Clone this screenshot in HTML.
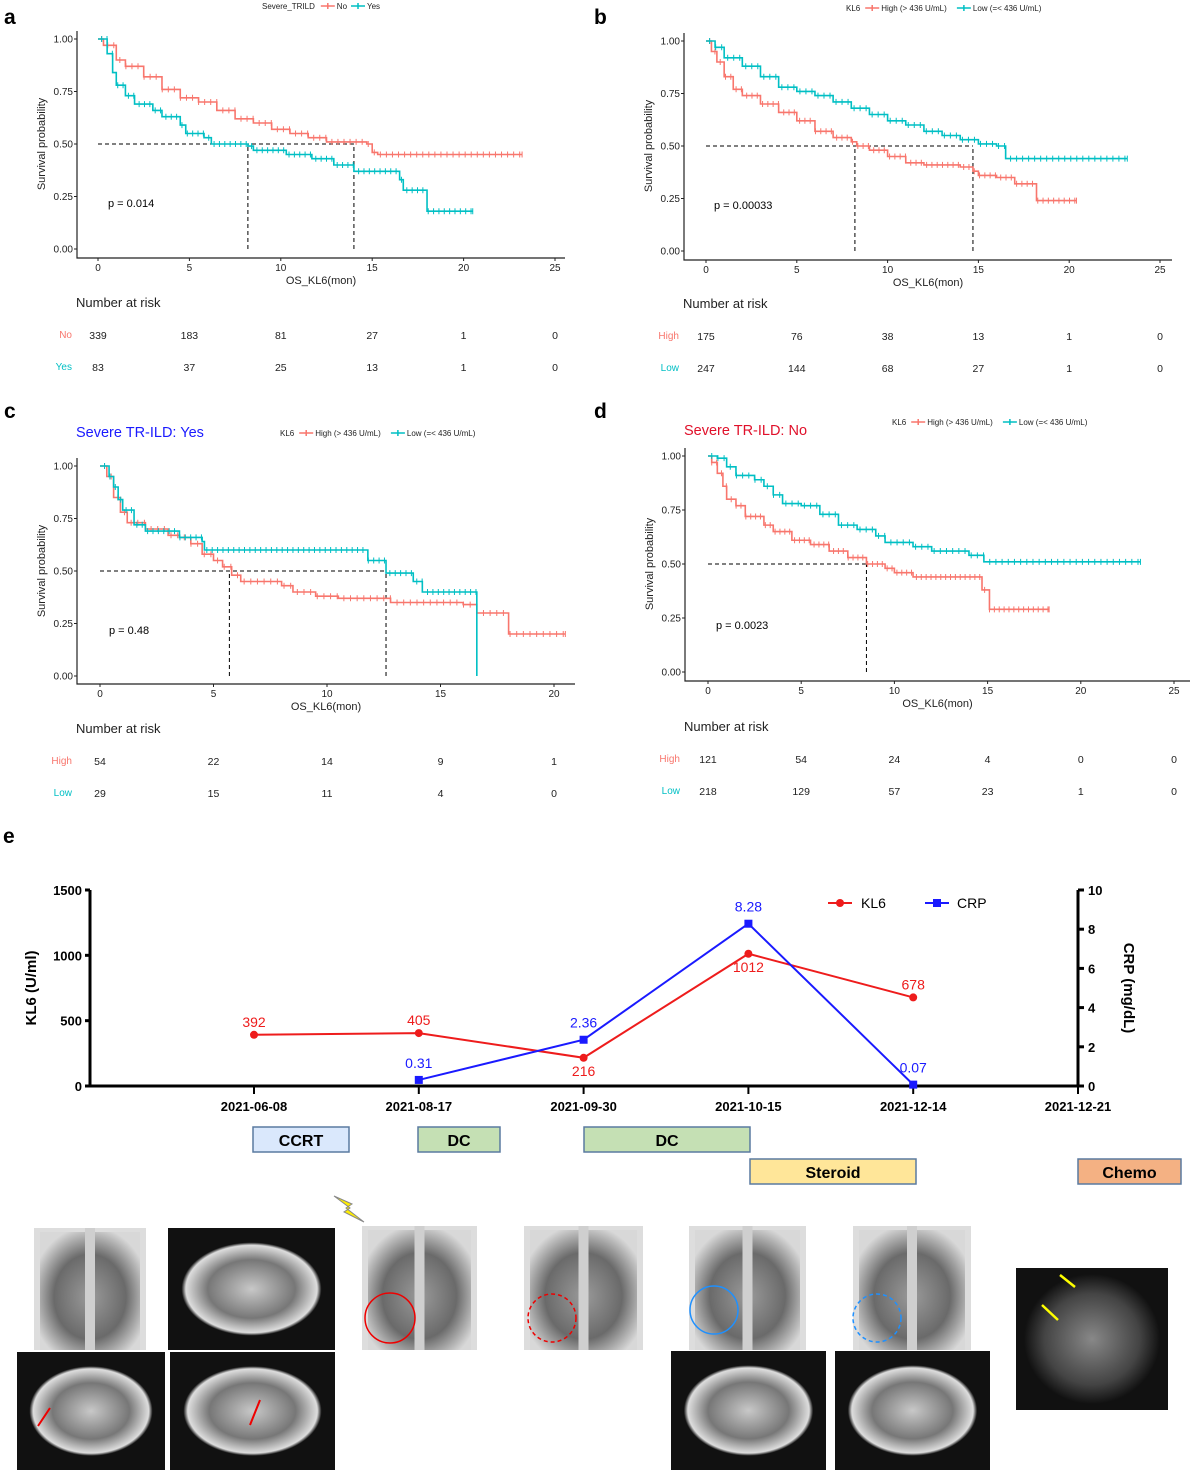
<!DOCTYPE html>
<html><head><meta charset="utf-8"><style>
body{margin:0;background:#fff;width:1200px;height:1474px;overflow:hidden}
svg{display:block;font-family:"Liberation Sans",sans-serif}
</style></head><body>
<svg id="fig" width="1200" height="1474" viewBox="0 0 1200 1474" xmlns="http://www.w3.org/2000/svg">
<defs>
<radialGradient id="xr" cx="50%" cy="55%" r="60%"><stop offset="0" stop-color="#9a9a9a"/><stop offset="0.6" stop-color="#6a6a6a"/><stop offset="1" stop-color="#d8d8d8"/></radialGradient>
<radialGradient id="ct" cx="50%" cy="50%" r="55%"><stop offset="0" stop-color="#c8c8c8"/><stop offset="0.5" stop-color="#777"/><stop offset="0.75" stop-color="#ddd"/><stop offset="0.8" stop-color="#111"/></radialGradient>
<radialGradient id="mr" cx="50%" cy="50%" r="50%"><stop offset="0" stop-color="#888"/><stop offset="0.7" stop-color="#444"/><stop offset="1" stop-color="#111"/></radialGradient>
</defs>
<g id="panels"></g>
</svg>
<script>
// ---------- KM data ----------
const aNo = [[0,1],[0.3,.97],[1,.9],[1.5,.87],[2.5,.82],[3.5,.76],[4.5,.72],[5.5,.70],[6.5,.66],[7.5,.62],[8.5,.60],[9.5,.57],[10.5,.55],[11.5,.53],[12.5,.51],[14.7,.50],[15,.46],[15.3,.45],[23.2,.45]];
const aYes = [[0,1],[0.5,.93],[0.8,.84],[1,.78],[1.5,.73],[2,.69],[3,.66],[3.5,.63],[4.5,.59],[4.8,.55],[5.8,.53],[6.2,.50],[8.2,.49],[8.5,.47],[10.3,.45],[11.7,.43],[12.9,.40],[14,.37],[16.5,.33],[16.7,.28],[18,.18],[20.5,.18]];
const bHigh = [[0,1],[0.3,.95],[0.6,.90],[1,.83],[1.5,.77],[2,.74],[3,.70],[4,.66],[5,.62],[6,.57],[7,.54],[8,.52],[8.3,.50],[9,.48],[10,.45],[11,.42],[12,.41],[14,.40],[14.7,.38],[15,.36],[16,.35],[17,.32],[18.2,.24],[20.4,.24]];
const bLow = [[0,1],[0.5,.97],[1,.92],[2,.88],[3,.83],[4,.78],[5,.76],[6,.74],[7,.71],[8,.68],[9,.65],[10,.62],[11,.60],[12,.57],[13,.55],[14,.53],[15,.51],[16,.50],[16.5,.44],[23.2,.44]];
const cHigh = [[0,1],[0.3,.95],[0.6,.85],[0.9,.78],[1.2,.73],[2,.70],[3,.67],[3.5,.66],[4,.63],[4.5,.58],[5,.55],[5.4,.52],[5.8,.48],[6.2,.45],[8,.43],[8.5,.40],[9.5,.38],[10.5,.37],[12.8,.35],[16,.34],[16.6,.30],[18,.20],[20.5,.20]];
const cLow = [[0,1],[0.4,.95],[0.6,.9],[0.8,.84],[1,.79],[1.5,.72],[2,.69],[3.5,.66],[4.5,.64],[4.6,.60],[11.8,.55],[12.6,.49],[13.8,.45],[14.2,.40],[16.6,0],[16.6,0]];
const dHigh = [[0,1],[0.2,.97],[0.5,.92],[0.8,.86],[1,.80],[1.5,.77],[2,.72],[3,.68],[3.5,.65],[4.5,.61],[5.5,.59],[6.5,.56],[7.5,.53],[8.5,.50],[9.5,.48],[10,.46],[11,.44],[14.7,.38],[15.1,.29],[18.3,.29]];
const dLow = [[0,1],[0.5,.99],[1,.95],[1.5,.91],[2.5,.89],[3,.86],[3.5,.82],[4,.78],[5,.77],[6,.73],[7,.68],[8,.66],[9,.63],[9.5,.60],[11,.58],[12,.56],[14,.54],[14.8,.51],[23.2,.51]];
const riskA = [[339,183,81,27,1,0],[83,37,25,13,1,0]];
const riskB = [[175,76,38,13,1,0],[247,144,68,27,1,0]];
const riskC = [[54,22,14,9,1],[29,15,11,4,0]];
const riskD = [[121,54,24,4,0,0],[218,129,57,23,1,0]];
const yTicks = ["0.00","0.25","0.50","0.75","1.00"];
// ---------- timeline data ----------
const dates = ["2021-06-08","2021-08-17","2021-09-30","2021-10-15","2021-12-14","2021-12-21"];
const kl6Idx = [0,1,2,3,4];
const kl6Vals = [392,405,216,1012,678];
const crpIdx = [1,2,3,4];
const crpVals = [0.31,2.36,8.28,0.07];
const kl6Ticks = [0,500,1000,1500];
const crpTicks = [0,2,4,6,8,10];

const NS="http://www.w3.org/2000/svg";
const root=document.getElementById('panels');
function el(tag,attrs,parent,text){const e=document.createElementNS(NS,tag);for(const k in attrs)e.setAttribute(k,attrs[k]);if(text!==undefined)e.textContent=text;(parent||root).appendChild(e);return e;}
const RED="#F8766D", CYAN="#00BFC4";

function stepAt(data,t){let s=data[0][1];for(const p of data){if(p[0]<=t)s=p[1];}return s;}

function km(c){
  const g=el('g',{});
  
  
  const X=t=>c.x0+t*c.ppu, Y=s=>c.y0-(c.y0-c.y1)*s;
  const ax=el('path',{d:`M${c.left},${c.y1-8}V${c.bottom}H${c.right}`,stroke:'#222','stroke-width':1.2,fill:'none'},g);
  
  yTicks.forEach((lab,i)=>{const y=Y(i*0.25);
    el('line',{x1:c.left-3,x2:c.left,y1:y,y2:y,stroke:'#222'},g);
    const t=el('text',{x:c.left-4,y:y+3.5,'font-size':10,'text-anchor':'end',fill:'#222'},g,lab);
    });
  for(let v=0;v<=c.xmax;v+=5){const x=X(v);
    el('line',{x1:x,x2:x,y1:c.bottom,y2:c.bottom+3,stroke:'#222'},g);
    const t=el('text',{x:x,y:c.bottom+13,'font-size':10,'text-anchor':'middle',fill:'#222'},g,String(v));
    }
  const yl=el('text',{transform:`translate(${c.left-32},${(c.y0+c.y1)/2}) rotate(-90)`,'font-size':11,'text-anchor':'middle',fill:'#222'},g,'Survival probability');
  
  const xl=el('text',{x:(c.left+c.right)/2,y:c.bottom+26,'font-size':11,'text-anchor':'middle',fill:'#222'},g,'OS_KL6(mon)');
  
  c.medians.forEach(m=>{const x=X(m);
    const d=el('path',{d:`M${x},${Y(0)}V${Y(0.5)}`,stroke:'#000','stroke-dasharray':'4,3',fill:'none'},g);
    });
  const hm=el('path',{d:`M${X(0)},${Y(0.5)}H${X(Math.max(...c.medians))}`,stroke:'#000','stroke-dasharray':'4,3',fill:'none'},g);
  
  c.series.forEach(sr=>{
    let d=`M${X(sr.data[0][0])},${Y(sr.data[0][1])}`;
    for(let i=1;i<sr.data.length;i++){d+=`H${X(sr.data[i][0])}V${Y(sr.data[i][1])}`;}
    const p=el('path',{d:d,stroke:sr.color,'stroke-width':1.6,fill:'none'},g);
    
    const end=sr.data[sr.data.length-1][0];
    let dd='';
    for(let t=0.2;t<end;t+=end/70){const s=stepAt(sr.data,t);if(s<=0)continue;
      dd+=`M${X(t)},${Y(s)-3}v6`;}
    if(stepAt(sr.data,end)>0) dd+=`M${X(end)},${Y(stepAt(sr.data,end))-3}v6`;
    el('path',{d:dd,stroke:sr.color,'stroke-width':1},g);
  });
  const pv=el('text',{x:X(0)+c.pdx,y:Y(0.2),'font-size':11,fill:'#000'},g,c.p);
  
  const lg=el('g',{},g);
  el('text',{x:c.legX,y:c.legY,'font-size':8,fill:'#222'},lg,c.legTitle);
  let lx=c.legX+c.legTitle.length*4.4+6;
  c.series.forEach(sr=>{el('path',{d:`M${lx},${c.legY-3}h14M${lx+7},${c.legY-6}v6`,stroke:sr.color,'stroke-width':1.5},lg);
    el('text',{x:lx+16,y:c.legY,'font-size':8,fill:'#222'},lg,sr.label);lx+=16+sr.label.length*4.1+6;});
  const rt=el('g',{},g);
  el('text',{x:c.left-1,y:c.riskY,'font-size':13,fill:'#222'},rt,'Number at risk');
  c.risk.forEach((row,ri)=>{const y=c.riskY+32+ri*32;
    el('text',{x:c.left-5,y:y-1,'font-size':10,'text-anchor':'end',fill:c.series[ri].color},rt,c.series[ri].short);
    row.forEach((v,i)=>el('text',{x:X(i*5),y:y,'font-size':10.5,'text-anchor':'middle',fill:'#222'},rt,String(v)));});
  const L=el('text',{x:c.letterX,y:c.letterY,'font-size':21,'font-weight':'bold',fill:'#000'},g,c.letter);
  
  if(c.title){const t=el('text',{x:c.title.x,y:c.title.y,'font-size':14.5,fill:c.title.color},g,c.title.text);
    }
}
const hi="High (> 436 U/mL)", lo="Low (=< 436 U/mL)";
km({name:'km-panel-a',letter:'a',letterX:4,letterY:24,x0:98,ppu:18.28,y1:39,y0:249,left:77,bottom:258,right:565,xmax:25,medians:[8.2,14],p:'p = 0.014',pdx:10,
  series:[{data:aNo,color:RED,name:'curve-no',label:'No',short:'No'},{data:aYes,color:CYAN,name:'curve-yes',label:'Yes',short:'Yes'}],
  legTitle:'Severe_TRILD',legX:262,legY:9,risk:riskA,riskY:307});
km({name:'km-panel-b',letter:'b',letterX:594,letterY:24,x0:706,ppu:18.16,y1:41,y0:251,left:684,bottom:260,right:1172,xmax:25,medians:[8.2,14.7],p:'p = 0.00033',pdx:8,
  series:[{data:bHigh,color:RED,name:'curve-high',label:hi,short:'High'},{data:bLow,color:CYAN,name:'curve-low',label:lo,short:'Low'}],
  legTitle:'KL6',legX:846,legY:11,risk:riskB,riskY:308});
km({name:'km-panel-c',letter:'c',letterX:4,letterY:418,x0:100,ppu:22.7,y1:466,y0:676,left:77,bottom:684,right:575,xmax:20,medians:[5.7,12.6],p:'p = 0.48',pdx:9,
  series:[{data:cHigh,color:RED,name:'curve-high',label:hi,short:'High'},{data:cLow,color:CYAN,name:'curve-low',label:lo,short:'Low'}],
  legTitle:'KL6',legX:280,legY:436,risk:riskC,riskY:733,title:{x:76,y:437,text:'Severe TR-ILD: Yes',color:'#1a1aff'}});
km({name:'km-panel-d',letter:'d',letterX:594,letterY:418,x0:708,ppu:18.64,y1:456,y0:672,left:685,bottom:681,right:1190,xmax:25,medians:[8.5],p:'p = 0.0023',pdx:8,
  series:[{data:dHigh,color:RED,name:'curve-high',label:hi,short:'High'},{data:dLow,color:CYAN,name:'curve-low',label:lo,short:'Low'}],
  legTitle:'KL6',legX:892,legY:425,risk:riskD,riskY:731,title:{x:684,y:435,text:'Severe TR-ILD: No',color:'#e0102a'}});

// ---------- panel e ----------
(function(){
const g=el('g',{});
const L=el('text',{x:3,y:843,'font-size':21,'font-weight':'bold'},g,'e');
const xL=90,xR=1078,yB=1086,yT=890;
const X=i=>254+i*164.8, YK=v=>yB-(yB-yT)*v/1500, YC=v=>yB-(yB-yT)*v/10;
el('path',{d:`M${xL},${yT}V${yB}H${xR}V${yT}`,stroke:'#000','stroke-width':3,fill:'none'},g);
kl6Ticks.forEach(v=>{el('line',{x1:xL-5,x2:xL,y1:YK(v),y2:YK(v),stroke:'#000','stroke-width':3},g);
  el('text',{x:xL-8,y:YK(v)+5,'font-size':13,'font-weight':'bold','text-anchor':'end'},g,String(v));});
crpTicks.forEach(v=>{el('line',{x1:xR,x2:xR+6,y1:YC(v),y2:YC(v),stroke:'#000','stroke-width':3},g);
  el('text',{x:xR+10,y:YC(v)+5,'font-size':13,'font-weight':'bold'},g,String(v));});
dates.forEach((d,i)=>{el('line',{x1:X(i),x2:X(i),y1:yB,y2:yB+8,stroke:'#000','stroke-width':2},g);
  const t=el('text',{x:X(i),y:yB+25,'font-size':13,'font-weight':'bold','text-anchor':'middle'},g,d);
  });
const yt=el('text',{transform:`translate(36,${(yT+yB)/2}) rotate(-90)`,'font-size':15,'font-weight':'bold','text-anchor':'middle'},g,'KL6 (U/ml)');

const yt2=el('text',{transform:`translate(1124,${(yT+yB)/2}) rotate(90)`,'font-size':15,'font-weight':'bold','text-anchor':'middle'},g,'CRP (mg/dL)');

const kp=kl6Idx.map((ix,k)=>`${X(ix)},${YK(kl6Vals[k])}`).join(' ');
const kl=el('polyline',{points:kp,stroke:'#ee1c1c','stroke-width':2,fill:'none'},g);
const cp=crpIdx.map((ix,k)=>`${X(ix)},${YC(crpVals[k])}`).join(' ');
const cl=el('polyline',{points:cp,stroke:'#1a1aff','stroke-width':2,fill:'none'},g);
kl6Idx.forEach((ix,k)=>{const c=el('circle',{cx:X(ix),cy:YK(kl6Vals[k]),r:4,fill:'#ee1c1c'},g);
  
  const below=(k===2||k===3);
  el('text',{x:X(ix),y:YK(kl6Vals[k])+(below?18:-8),'font-size':14,'text-anchor':'middle',fill:'#ee1c1c'},g,String(kl6Vals[k]));});
crpIdx.forEach((ix,k)=>{const r=el('rect',{x:X(ix)-4,y:YC(crpVals[k])-4,width:8,height:8,fill:'#1a1aff'},g);
  
  el('text',{x:X(ix),y:YC(crpVals[k])-12,'font-size':14,'text-anchor':'middle',fill:'#1a1aff'},g,String(crpVals[k]));});
const lg=el('g',{},g);
el('line',{x1:828,x2:852,y1:903,y2:903,stroke:'#ee1c1c','stroke-width':2},lg);el('circle',{cx:840,cy:903,r:4,fill:'#ee1c1c'},lg);
el('text',{x:861,y:908,'font-size':14},lg,'KL6');
el('line',{x1:925,x2:949,y1:903,y2:903,stroke:'#1a1aff','stroke-width':2},lg);el('rect',{x:933,y:899,width:8,height:8,fill:'#1a1aff'},lg);
el('text',{x:957,y:908,'font-size':14},lg,'CRP');
const boxes=[['CCRT',253,1127,96,'#dae8fc','treatment-ccrt'],['DC',418,1127,82,'#c5e0b4','treatment-dc-1'],['DC',584,1127,166,'#c5e0b4','treatment-dc-2'],['Steroid',750,1159,166,'#ffe699','treatment-steroid'],['Chemo',1078,1159,103,'#f4b183','treatment-chemo']];
boxes.forEach(b=>{const r=el('rect',{x:b[1],y:b[2],width:b[3],height:25,fill:b[4],stroke:'#5a7aa0','stroke-width':1.5},g);
  
  el('text',{x:b[1]+b[3]/2,y:b[2]+19,'font-size':16,'font-weight':'bold','text-anchor':'middle'},g,b[0]);});
const imgs=[['xr',34,1228,112,122],['ct',168,1228,167,122],['ct',17,1352,148,118],['ct',170,1352,165,118],['xr',362,1226,115,124],['xr',524,1226,119,124],['xr',689,1226,117,124],['xr',853,1226,118,124],['ct',671,1351,155,119],['ct',835,1351,155,119],['mr',1016,1268,152,142]];
imgs.forEach(m=>{const bg=m[0]==='xr'?'#ddd':'#111';
  const r=el('rect',{x:m[1],y:m[2],width:m[3],height:m[4],fill:bg},g);
  if(m[0]==='xr'){el('rect',{x:m[1]+6,y:m[2]+4,width:m[3]-12,height:m[4]-4,fill:'url(#xr)'},g);
    el('rect',{x:m[1]+m[3]/2-5,y:m[2],width:10,height:m[4],fill:'#cfcfcf'},g);}
  else if(m[0]==='ct'){el('ellipse',{cx:m[1]+m[3]/2,cy:m[2]+m[4]/2,rx:m[3]/2-4,ry:m[4]/2-8,fill:'url(#ct)'},g);}
  else el('ellipse',{cx:m[1]+m[3]/2,cy:m[2]+m[4]/2,rx:m[3]/2-8,ry:m[4]/2-6,fill:'url(#mr)'},g);});
el('circle',{cx:390,cy:1318,r:25,fill:'none',stroke:'#e00','stroke-width':1.5},g);
el('circle',{cx:552,cy:1318,r:24,fill:'none',stroke:'#e00','stroke-width':1.5,'stroke-dasharray':'4,3'},g);
el('circle',{cx:714,cy:1310,r:24,fill:'none',stroke:'#1e90ff','stroke-width':1.5},g);
el('circle',{cx:877,cy:1318,r:24,fill:'none',stroke:'#1e90ff','stroke-width':1.5,'stroke-dasharray':'4,3'},g);
el('path',{d:'M334,1196 L352,1204 L346,1208 L364,1222 L344,1212 L350,1208Z',fill:'#ffee00',stroke:'#888'},g);
el('path',{d:'M50,1408 L38,1426M260,1400 L250,1425',stroke:'#e00','stroke-width':2},g);
el('path',{d:'M1060,1275 L1075,1287M1042,1305 L1058,1320',stroke:'#ff0','stroke-width':2.5},g);
})();
</script>
</body></html>
